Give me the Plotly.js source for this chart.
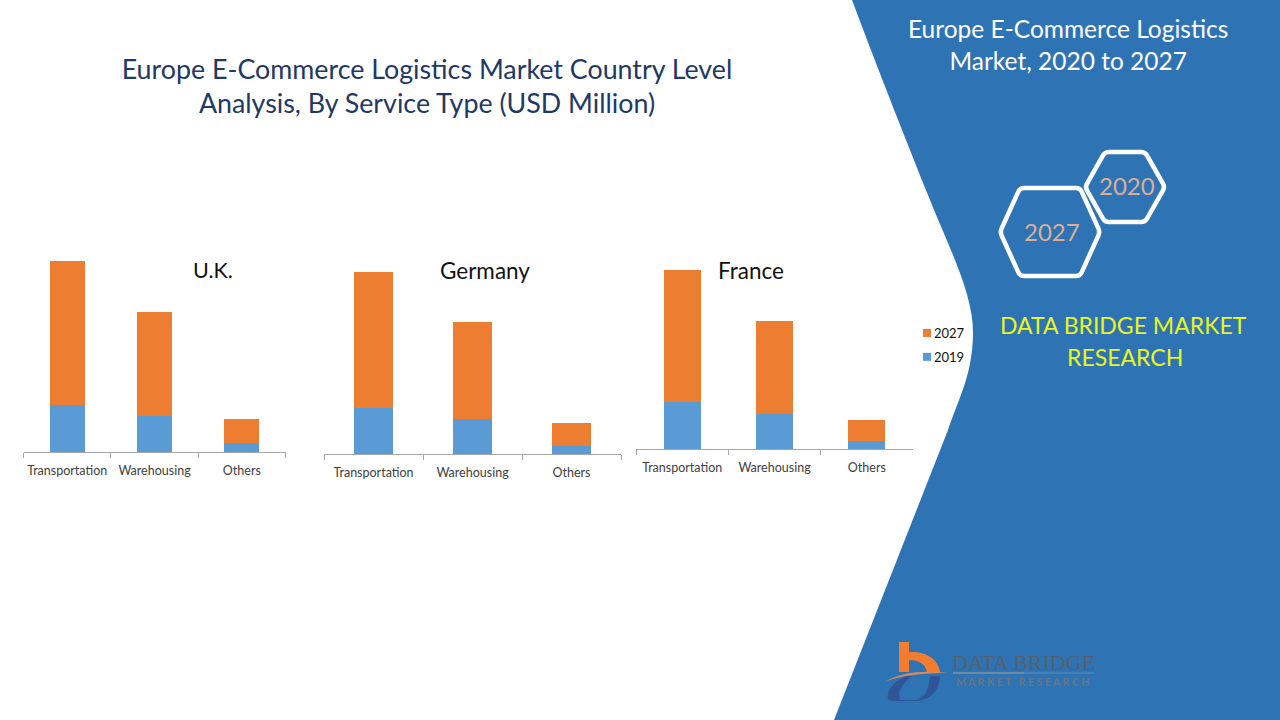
<!DOCTYPE html>
<html><head><meta charset="utf-8">
<script src="https://cdn.plot.ly/plotly-3.0.1.min.js"></script>
<style>html,body{margin:0;padding:0;background:#fff}#c{width:1280px;height:720px}
.shapelayer path{stroke-linejoin:round}</style></head>
<body><div id="c"></div>
<script>
const categories = ['Transportation','Warehousing','Others'];
const uk2019 = [47,36,9];
const uk2027 = [144,104,24];
const germany2019 = [46,35,8];
const germany2027 = [136,97,23];
const france2019 = [47,35,8];
const france2027 = [132,93,21];
const BLUE='#5b9bd5', ORANGE='#ed7d31', FONT='Lato, "Open Sans", sans-serif';
const W=1280,H=720;
const px=x=>x/W, py=y=>1-y/H;
function tr(name,y,color,ax,show,rank){return {type:'bar',name:name,x:categories,y:y,xaxis:'x'+ax,yaxis:'y'+ax,
  marker:{color:color},legendgroup:name,legendrank:rank,showlegend:show,hoverinfo:'x+y+name'};}
const data=[
  tr('2019',uk2019,BLUE,'',true,2),tr('2027',uk2027,ORANGE,'',true,1),
  tr('2019',germany2019,BLUE,'2',false,2),tr('2027',germany2027,ORANGE,'2',false,1),
  tr('2019',france2019,BLUE,'3',false,2),tr('2027',france2027,ORANGE,'3',false,1)];
function xa(l,r,anchor){return {domain:[px(l),px(r)],anchor:anchor,type:'category',range:[-0.5,2.5],showgrid:false,zeroline:false,
  showline:true,linecolor:'#a6a6a6',linewidth:1,ticks:'outside',ticklen:5,tickcolor:'#a6a6a6',tickson:'boundaries',ticklabelstandoff:7,tickangle:0,
  tickfont:{family:FONT,size:12.5,color:'#404040'}};}
function ya(base,anchor){return {domain:[py(base),py(base-200)],anchor:anchor,range:[0,200],visible:false,fixedrange:true};}
const panel='M '+px(852)+' 1 C '+px(880)+' '+py(75)+' '+px(910)+' '+py(150)+' '+px(930)+' '+py(200)
 +' C '+px(950)+' '+py(250)+' '+px(974)+' '+py(295)+' '+px(973)+' '+py(335)
 +' C '+px(972)+' '+py(375)+' '+px(960)+' '+py(395)+' '+px(948)+' '+py(430)
 +' L '+px(834)+' 0 L 1 0 L 1 1 Z';
function hex(cx,cy,rx,tx,ry){const r=4;
  const P=[[cx-rx,cy],[cx-tx,cy-ry],[cx+tx,cy-ry],[cx+rx,cy],[cx+tx,cy+ry],[cx-tx,cy+ry]];
  let s='';
  P.forEach((p,i)=>{const a=P[(i+5)%6],b=P[(i+1)%6];
    const la=Math.hypot(a[0]-p[0],a[1]-p[1]),lb=Math.hypot(b[0]-p[0],b[1]-p[1]);
    const s1=[p[0]+(a[0]-p[0])*r/la,p[1]+(a[1]-p[1])*r/la],s2=[p[0]+(b[0]-p[0])*r/lb,p[1]+(b[1]-p[1])*r/lb];
    s+=(i?' L ':'M ')+px(s1[0])+' '+py(s1[1])+' Q '+px(p[0])+' '+py(p[1])+' '+px(s2[0])+' '+py(s2[1]);});
  return s+' Z';}
const P=(a)=>a.map(c=>typeof c==='string'?c:px(c[0])+' '+py(c[1])).join(' ');
const logoB=P(['M',[899,642],'L',[909,642],'L',[909,652],'C',[925,651],[938,658],[940,672],'L',[927,672],'C',[925,663],[918,660],[909,660],'L',[909,672],'L',[899,672],'Z']);
const logoArc=P(['M',[885,682],'C',[900,672],[925,670],[947,673],'C',[925,673],[900,675],[885,682],'Z']);
const logoD=P(['M',[888,699],'C',[886,690],[895,680],[908,676],'L',[912,676],'C',[904,682],[899,690],[899,695],'L',[900,700],'L',[915,700],'C',[925,699],[929,688],[930,676],'L',[940,676],'C',[940,690],[930,701],[915,701],'L',[893,701],'Z']);
const ann=(t,x,y,size,color,extra)=>Object.assign({text:t,xref:'paper',yref:'paper',x:px(x),y:py(y),showarrow:false,xanchor:'center',yanchor:'middle',
   font:{family:FONT,size:size,color:color}},extra||{});
const layout={width:W,height:H,margin:{l:0,r:0,t:0,b:0},paper_bgcolor:'#fff',plot_bgcolor:'rgba(0,0,0,0)',
  barmode:'stack',bargap:0.6,
  title:{text:'Europe E-Commerce Logistics Market Country Level<br>Analysis, By Service Type (USD Million)',
    x:px(427),xanchor:'center',xref:'paper',y:py(78.5),yanchor:'middle',yref:'paper',font:{family:FONT,size:26.8,color:'#1f3864'}},
  xaxis:xa(23.5,285.5,'y'),yaxis:ya(452,'x'),
  xaxis2:xa(324,621,'y2'),yaxis2:ya(454,'x2'),
  xaxis3:xa(636,913,'y3'),yaxis3:ya(449,'x3'),
  legend:{x:px(894),y:py(318),xanchor:'left',yanchor:'top',traceorder:'grouped',bgcolor:'rgba(0,0,0,0)',
    font:{family:FONT,size:13,color:'#111'},itemwidth:30,tracegroupgap:4},
  shapes:[
    {type:'path',layer:'below',xref:'paper',yref:'paper',path:panel,fillcolor:'#2e74b5',line:{width:0}},
    {type:'path',xref:'paper',yref:'paper',path:hex(1050,232,50,30,44),line:{color:'#fff',width:4.5}},
    {type:'path',xref:'paper',yref:'paper',path:hex(1125,187,40,20,35),line:{color:'#fff',width:4.5}},
    {type:'path',xref:'paper',yref:'paper',path:logoB,fillcolor:'#f47c30',line:{width:0}},
    {type:'path',xref:'paper',yref:'paper',path:logoD,fillcolor:'#2f5597',line:{width:0}},
    {type:'path',xref:'paper',yref:'paper',path:logoArc,fillcolor:'#d98a5a',line:{width:0}},
    {type:'line',xref:'paper',yref:'paper',x0:px(953),x1:px(1024),y0:py(673),y1:py(673),line:{color:'#8a8f99',width:1.5}},
    {type:'line',xref:'paper',yref:'paper',x0:px(1024),x1:px(1094),y0:py(673),y1:py(673),line:{color:'#5f88b5',width:1}}
  ],
  annotations:[
    ann('U.K.',213,270,21.5,'#111'),ann('Germany',485,270,22.5,'#111'),ann('France',751,270,22.5,'#111'),
    ann('Europe E-Commerce Logistics<br>Market, 2020 to 2027',1068,44,24.5,'#fff'),
    ann('2027',1052,232,24,'#dcae94'),ann('2020',1127,186,24,'#dcae94'),
    ann('DATA BRIDGE MARKET',1123.5,325,23,'#e8f51e'),
    ann('RESEARCH',1125,357,23,'#e8f51e'),
    ann('DATA BRIDGE',1023,662,22,'#55606e',{font:{family:'"Liberation Serif",serif',size:22,color:'#55606e'}}),
    ann('M A R K E T &nbsp; R E S E A R C H',1022,682,10.5,'#6b7480',{font:{family:FONT,size:10.5,color:'#6b7480',weight:700}})
  ]};
function tuneLegendKeys(){
  document.querySelectorAll('.legend .legendpoints path').forEach(p=>{
    p.setAttribute('d','M4,4H-4V-4H4Z');
    p.setAttribute('transform','translate(33,0)');
  });
}
Plotly.newPlot('c',data,layout,{displayModeBar:false}).then(tuneLegendKeys);
</script></body></html>
